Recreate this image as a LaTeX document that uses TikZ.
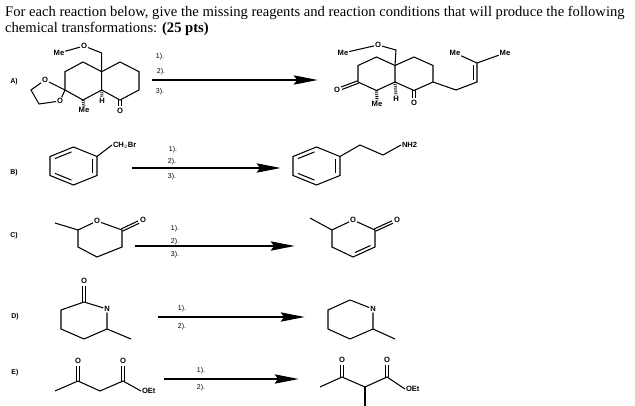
\documentclass[tikz,border=0pt]{standalone}
\usepackage{fontspec}
\setmainfont{Liberation Serif}
\setsansfont{Liberation Sans}
\usetikzlibrary{arrows.meta,calc}
\newcommand{\dbond}[3][5pt]{%
  \draw[bond,shorten >=#1] ($(#2)!1.3pt!90:(#3)$) -- ($(#3)!1.3pt!-90:(#2)$);
  \draw[bond,shorten >=#1] ($(#2)!1.3pt!-90:(#3)$) -- ($(#3)!1.3pt!90:(#2)$);}
\begin{document}
\begin{tikzpicture}[x=1pt,y=-1pt,
  bond/.style={line width=1.05pt},
  hash/.style={line width=3pt,dash pattern=on 0.8pt off 1.1pt},
  atom/.style={font=\sffamily\bfseries\fontsize{7.6}{9}\selectfont,inner sep=0.8pt},
  lbl/.style={font=\sffamily\fontsize{7}{8}\selectfont,inner sep=0pt},
  rxn/.style={line width=2.8pt,-{Stealth[length=24pt,width=9pt,inset=3pt]}},
  title/.style={font=\fontsize{14.6}{16}\selectfont,inner sep=0pt,anchor=west}]
\useasboundingbox (0,0) rectangle (635,406);
\node[title] (t1) at (5,13) {For each reaction below, give the missing reagents and reaction conditions that will produce the following};
\node[title] (t2) at (5,29) {chemical transformations: \textbf{(25 pts)}};
% labels
\node[lbl,font=\sffamily\bfseries\fontsize{7}{8}\selectfont] (LA) at (14,82) {A)};
\node[lbl,font=\sffamily\bfseries\fontsize{7}{8}\selectfont] (LB) at (14,173) {B)};
\node[lbl,font=\sffamily\bfseries\fontsize{7}{8}\selectfont] (LC) at (14,236) {C)};
\node[lbl,font=\sffamily\bfseries\fontsize{7}{8}\selectfont] (LD) at (15,317) {D)};
\node[lbl,font=\sffamily\bfseries\fontsize{7}{8}\selectfont] (LE) at (15,373) {E)};
% ---------- A reactant
\coordinate (j1) at (101.7,71.7); \coordinate (j2) at (101.7,90);
\coordinate (l1) at (83,62); \coordinate (l2) at (65,71.7); \coordinate (sp) at (65,90); \coordinate (l4) at (83,100);
\coordinate (r1) at (120,62); \coordinate (r2) at (139,71.7); \coordinate (r3) at (139,90); \coordinate (kc) at (120,100);
\draw[bond] (j1)--(l1)--(l2)--(sp)--(l4)--(j2)--(j1)--(r1)--(r2)--(r3)--(kc)--(j2);
\node[atom] (koA) at (120,111) {O};
\dbond{kc}{koA}
\coordinate (chA) at (101.7,53);
\node[atom] (oA) at (84,46) {O};
\node[atom] (meA) at (59,53) {Me};
\draw[bond] (j1)--(chA)--(oA)--(meA);
\node[atom] (o1A) at (45,80) {O};
\node[atom] (o2A) at (60,101) {O};
\coordinate (c1A) at (31,90); \coordinate (c2A) at (39,104);
\draw[bond] (sp)--(o1A)--(c1A)--(c2A)--(o2A)--(sp);
\node[atom] (me2A) at (84,110) {Me};
\draw[hash] (l4)--(me2A.north);
\node[atom] (hA) at (102,101) {H};
\draw[hash] (j2)--(hA.north);
\coordinate (aA1) at (152,80); \coordinate (aA2) at (318,80);
\draw[rxn] (aA1)--(aA2);
\node[lbl] (a1) at (160,57) {1).};
\node[lbl] (a2) at (161,72) {2).};
\node[lbl] (a3) at (160,92) {3).};
% ---------- A product
\coordinate (pj1) at (395,65.5); \coordinate (pj2) at (395,82);
\coordinate (pl1) at (376.5,57); \coordinate (pl2) at (358,65.5); \coordinate (pk) at (358,82); \coordinate (pl4) at (376.5,90.5);
\coordinate (pr1) at (414,57); \coordinate (pr2) at (433,65.5); \coordinate (pr3) at (433,82); \coordinate (pk2) at (414,90.5);
\draw[bond] (pj1)--(pl1)--(pl2)--(pk)--(pl4)--(pj2)--(pj1)--(pr1)--(pr2)--(pr3)--(pk2)--(pj2);
\node[atom] (pO1) at (337,90) {O};
\dbond{pk}{pO1}
\node[atom] (pO2) at (414,103) {O};
\dbond{pk2}{pO2}
\node[atom] (pMe) at (377,104) {Me};
\draw[hash] (pl4)--(pMe.north);
\node[atom] (pH) at (396,99) {H};
\draw[hash] (pj2)--(pH.north);
\coordinate (pch) at (396,50);
\node[atom] (pO) at (378,45) {O};
\node[atom] (pMeO) at (343,53) {Me};
\draw[bond] (pj1)--(pch)--(pO)--(pMeO);
\coordinate (s1) at (456,90); \coordinate (s2) at (477,82); \coordinate (s3) at (477,63);
\draw[bond] (pr3)--(s1)--(s2)--(s3);
\draw[bond] (473.5,80) -- (473.5,65);
\node[atom] (sm1) at (455,53) {Me};
\node[atom] (sm2) at (505,53) {Me};
\draw[bond] (sm1)--(s3)--(sm2);
% ---------- B reactant
\coordinate (b1) at (73.5,147); \coordinate (b2) at (97,156.5); \coordinate (b3) at (97,175.5);
\coordinate (b4) at (73.5,185); \coordinate (b5) at (50,175.5); \coordinate (b6) at (50,156.5);
\draw[bond] (b1)--(b2)--(b3)--(b4)--(b5)--(b6)--cycle;
\draw[bond] ($(b1)!0.15!(b6)+(1.5,3.5)$) -- ($(b6)!0.15!(b1)+(1.5,3.5)$);
\draw[bond] (92.5,159) -- (92.5,173);
\draw[bond] ($(b4)!0.15!(b5)+(1.5,-3.5)$) -- ($(b5)!0.15!(b4)+(1.5,-3.5)$);
\node[atom,anchor=west] (br) at (112,145) {CH$_2$Br};
\draw[bond] (b2)--(br.west);
\coordinate (aB1) at (132,168); \coordinate (aB2) at (281,168);
\draw[rxn] (aB1)--(aB2);
\node[lbl] (b1l) at (173,150) {1).};
\node[lbl] (b2l) at (172,162) {2).};
\node[lbl] (b3l) at (172,177) {3).};
% ---------- B product
\coordinate (q1) at (316.5,147); \coordinate (q2) at (340,156.5); \coordinate (q3) at (340,175.5);
\coordinate (q4) at (316.5,185); \coordinate (q5) at (293,175.5); \coordinate (q6) at (293,156.5);
\draw[bond] (q1)--(q2)--(q3)--(q4)--(q5)--(q6)--cycle;
\draw[bond] ($(q1)!0.15!(q6)+(1.5,3.5)$) -- ($(q6)!0.15!(q1)+(1.5,3.5)$);
\draw[bond] (335.5,159) -- (335.5,173);
\draw[bond] ($(q4)!0.15!(q5)+(1.5,-3.5)$) -- ($(q5)!0.15!(q4)+(1.5,-3.5)$);
\coordinate (qc1) at (360,145); \coordinate (qc2) at (383,155);
\node[atom,anchor=west] (nh2) at (401,145) {NH2};
\draw[bond] (q2)--(qc1)--(qc2)--(nh2.west);
% ---------- C reactant
\coordinate (cme) at (55,223); \coordinate (c6) at (78,230); \coordinate (c5) at (78,247);
\coordinate (c4) at (97,257); \coordinate (c3) at (122,247); \coordinate (c2) at (122,230);
\node[atom] (cO) at (97,221) {O};
\node[atom] (cOk) at (143,220) {O};
\draw[bond] (cme)--(c6)--(cO)--(c2)--(c3)--(c4)--(c5)--(c6);
\dbond{c2}{cOk}
\coordinate (aC1) at (135,246); \coordinate (aC2) at (295,246);
\draw[rxn] (aC1)--(aC2);
\node[lbl] (c1l) at (175,229) {1).};
\node[lbl] (c2l) at (175,242) {2).};
\node[lbl] (c3l) at (175,255) {3).};
% ---------- C product
\coordinate (dme) at (310,218); \coordinate (d6) at (332,230); \coordinate (d5) at (332,247);
\coordinate (d4) at (353,257); \coordinate (d3) at (375,247); \coordinate (d2) at (375,230);
\node[atom] (dO) at (353,220) {O};
\node[atom] (dOk) at (397,220) {O};
\draw[bond] (dme)--(d6)--(dO)--(d2)--(d3)--(d4)--(d5)--(d6);
\dbond{d2}{dOk}
\draw[bond] ($(d3)!0.15!(d4)+(-1.2,-3)$) -- ($(d4)!0.15!(d3)+(-1.2,-3)$);
% ---------- D reactant
\node[atom] (eO) at (84,281) {O};
\coordinate (e2) at (84,302);
\node[atom] (eN) at (107,309) {N};
\coordinate (e6) at (107,329); \coordinate (eme) at (131,339);
\coordinate (e5) at (84,339); \coordinate (e4) at (61,329); \coordinate (e3) at (61,310);
\dbond{e2}{eO}
\draw[bond] (e2)--(eN)--(e6)--(e5)--(e4)--(e3)--(e2);
\draw[bond] (e6)--(eme);
\coordinate (aD1) at (158,317); \coordinate (aD2) at (305,317);
\draw[rxn] (aD1)--(aD2);
\node[lbl] (d1l) at (182,309) {1).};
\node[lbl] (d2l) at (182,327) {2).};
% ---------- D product
\node[atom] (fN) at (373,309) {N};
\coordinate (f2) at (373,329); \coordinate (fme) at (395,339);
\coordinate (f3) at (350,339); \coordinate (f4) at (328,329); \coordinate (f5) at (328,310); \coordinate (f6) at (350,300);
\draw[bond] (f6)--(fN)--(f2)--(f3)--(f4)--(f5)--(f6);
\draw[bond] (f2)--(fme);
% ---------- E reactant
\coordinate (g1) at (55,391); \coordinate (g2) at (78,381); \coordinate (g3) at (100,391); \coordinate (g4) at (123,381);
\node[atom] (gO1) at (78,361) {O};
\node[atom] (gO2) at (123,361) {O};
\node[atom,anchor=west] (gOEt) at (141,391) {OEt};
\draw[bond] (g1)--(g2)--(g3)--(g4)--(gOEt.west);
\dbond{g2}{gO1} \dbond{g4}{gO2}
\coordinate (aE1) at (164,379); \coordinate (aE2) at (299,379);
\draw[rxn] (aE1)--(aE2);
\node[lbl] (e1l) at (201,371) {1).};
\node[lbl] (e2l) at (201,388) {2).};
% ---------- E product
\coordinate (h1) at (320,387); \coordinate (h2) at (342,377); \coordinate (h3) at (365,387); \coordinate (h4) at (387,377);
\coordinate (hm) at (365,406);
\node[atom] (hO1) at (342,360) {O};
\node[atom] (hO2) at (387,360) {O};
\node[atom,anchor=west] (hOEt) at (405,389) {OEt};
\draw[bond] (h1)--(h2)--(h3)--(h4)--(hOEt.west);
\draw[bond] (h3)--(hm);
\dbond{h2}{hO1} \dbond{h4}{hO2}
\end{tikzpicture}
\end{document}
